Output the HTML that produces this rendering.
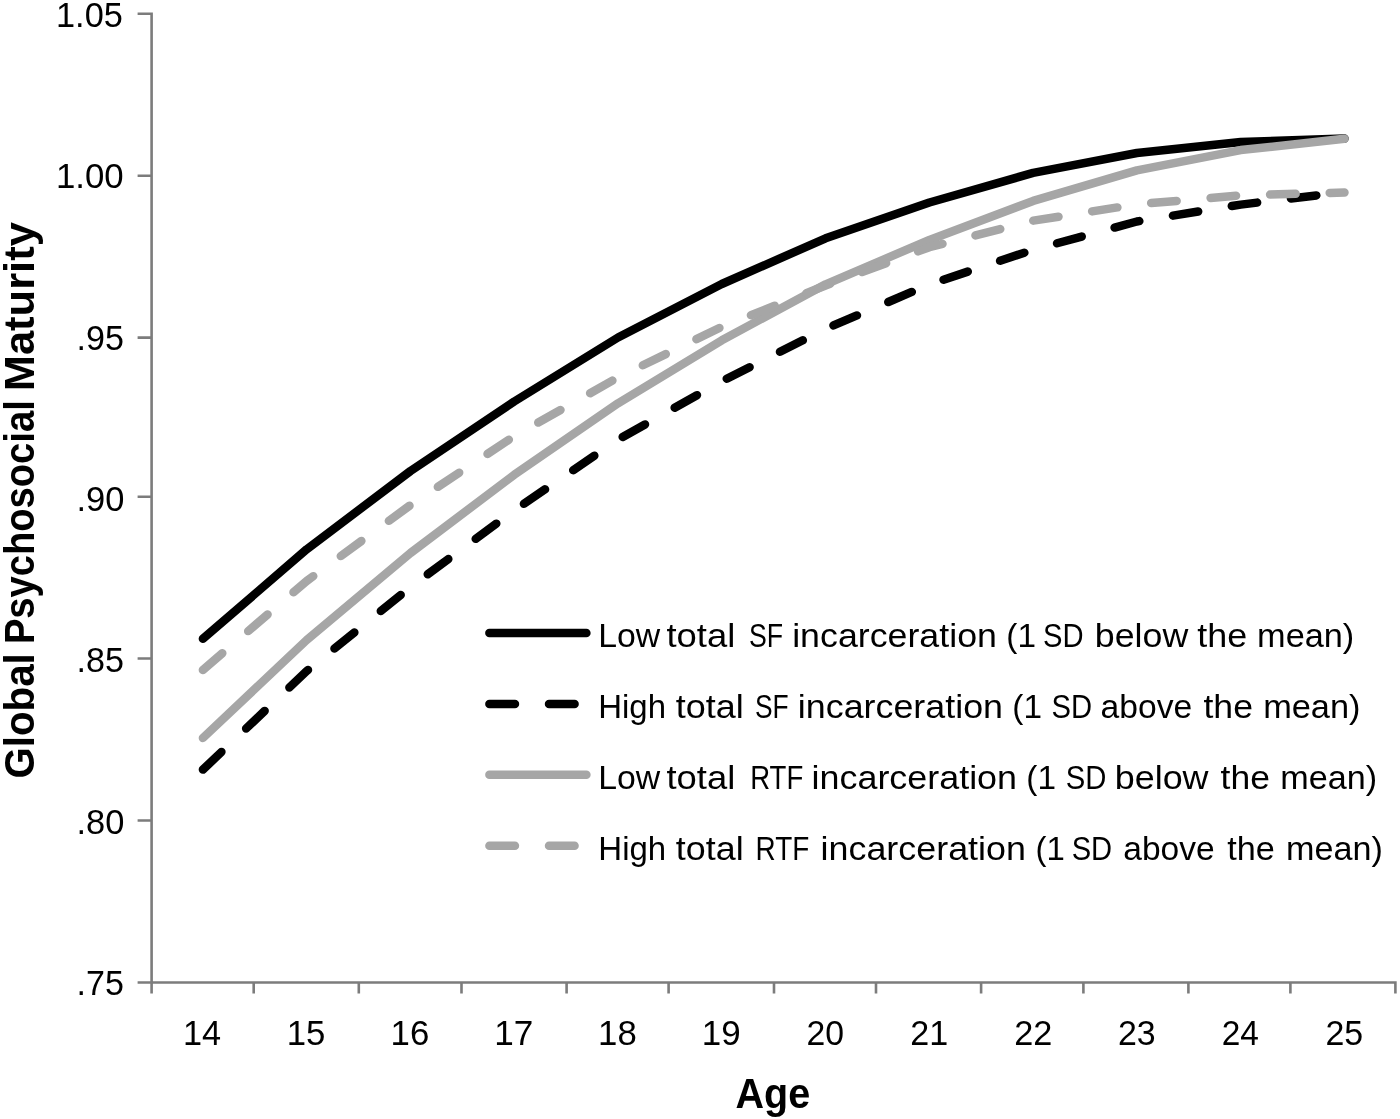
<!DOCTYPE html><html><head><meta charset="utf-8"><title>Global Psychosocial Maturity by Age</title><style>html,body{margin:0;padding:0;background:#fff}svg{display:block}text{font-family:"Liberation Sans",Arial,sans-serif;fill:#000}</style></head><body>
<svg width="1400" height="1119" viewBox="0 0 1400 1119">
<rect width="1400" height="1119" fill="#fff"/>
<path d="M151.6 13.7V993.5M137.6 13.7H152.90M137.6 175.7H152.90M137.6 337.6H152.90M137.6 496.7H152.90M137.6 658.5H152.90M137.6 820.5H152.90M137.6 982.5H152.90M150.30 982.5H1396.70M253.7 982.5V993.5M358.8 982.5V993.5M461.5 982.5V993.5M566.6 982.5V993.5M668.6 982.5V993.5M774.0 982.5V993.5M876.0 982.5V993.5M981.1 982.5V993.5M1083.4 982.5V993.5M1188.4 982.5V993.5M1290.4 982.5V993.5M1395.4 982.5V993.5" stroke="#7c7c7c" stroke-width="2.6" fill="none"/>
<path d="M202.9 638.8 L306.7 549.3 L410.5 471.0 L514.2 401.5 L618.0 337.5 L721.8 284.0 L825.6 238.3 L929.4 202.5 L1033.1 172.9 L1136.9 153.0 L1240.7 141.9 L1344.5 138.6" fill="none" stroke="#000" stroke-width="8.5" stroke-linecap="round" stroke-linejoin="round"/>
<path d="M202.9 769.6 L306.7 671.0 L410.5 587.0 L514.2 510.4 L618.0 439.6 L721.8 381.2 L825.6 328.8 L929.4 284.4 L1033.1 249.8 L1136.9 221.5 L1240.7 204.6 L1344.5 192.0" fill="none" stroke="#000" stroke-width="8.5" stroke-linecap="round" stroke-linejoin="round" stroke-dasharray="25.55 34.08"/>
<path d="M202.9 738.0 L306.7 640.0 L410.5 553.0 L514.2 474.8 L618.0 403.3 L721.8 340.3 L825.6 284.3 L929.4 240.0 L1033.1 200.9 L1136.9 170.3 L1240.7 150.1 L1344.5 138.8" fill="none" stroke="#a6a6a6" stroke-width="8.5" stroke-linecap="round" stroke-linejoin="round"/>
<path d="M202.9 669.9 L306.7 581.0 L410.5 505.0 L514.2 436.2 L618.0 377.4 L721.8 326.8 L825.6 285.5 L929.4 247.2 L1033.1 220.7 L1136.9 204.3 L1240.7 195.4 L1344.5 192.5" fill="none" stroke="#a6a6a6" stroke-width="8.5" stroke-linecap="round" stroke-linejoin="round" stroke-dasharray="25.55 34.08"/>
<path d="M489.4 633.0H586.4" fill="none" stroke="#000" stroke-width="8.5" stroke-linecap="round"/>
<path d="M489.4 703.9H586.4" fill="none" stroke="#000" stroke-width="8.5" stroke-linecap="round" stroke-dasharray="25.55 34.08"/>
<path d="M489.4 774.8H586.4" fill="none" stroke="#a6a6a6" stroke-width="8.5" stroke-linecap="round"/>
<path d="M489.4 845.7H586.4" fill="none" stroke="#a6a6a6" stroke-width="8.5" stroke-linecap="round" stroke-dasharray="25.55 34.08"/>
<text x="56.03" y="26.60" font-size="34.2" textLength="66.79" lengthAdjust="spacingAndGlyphs">1.05</text>
<text x="55.99" y="188.07" font-size="34.2" textLength="67.75" lengthAdjust="spacingAndGlyphs">1.00</text>
<text x="76.54" y="349.54" font-size="34.2" textLength="47.33" lengthAdjust="spacingAndGlyphs">.95</text>
<text x="76.50" y="511.01" font-size="34.2" textLength="47.88" lengthAdjust="spacingAndGlyphs">.90</text>
<text x="76.53" y="672.48" font-size="34.2" textLength="47.44" lengthAdjust="spacingAndGlyphs">.85</text>
<text x="76.50" y="833.95" font-size="34.2" textLength="47.88" lengthAdjust="spacingAndGlyphs">.80</text>
<text x="76.54" y="995.42" font-size="34.2" textLength="47.33" lengthAdjust="spacingAndGlyphs">.75</text>
<text x="183.03" y="1044.80" font-size="34.2" textLength="38.11" lengthAdjust="spacingAndGlyphs">14</text>
<text x="286.77" y="1044.80" font-size="34.2" textLength="38.68" lengthAdjust="spacingAndGlyphs">15</text>
<text x="390.55" y="1044.80" font-size="34.2" textLength="38.68" lengthAdjust="spacingAndGlyphs">16</text>
<text x="494.31" y="1044.80" font-size="34.2" textLength="39.07" lengthAdjust="spacingAndGlyphs">17</text>
<text x="598.11" y="1044.80" font-size="34.2" textLength="38.68" lengthAdjust="spacingAndGlyphs">18</text>
<text x="701.88" y="1044.80" font-size="34.2" textLength="38.88" lengthAdjust="spacingAndGlyphs">19</text>
<text x="806.59" y="1044.80" font-size="34.2" textLength="37.55" lengthAdjust="spacingAndGlyphs">20</text>
<text x="910.36" y="1044.80" font-size="34.2" textLength="37.92" lengthAdjust="spacingAndGlyphs">21</text>
<text x="1014.13" y="1044.80" font-size="34.2" textLength="38.11" lengthAdjust="spacingAndGlyphs">22</text>
<text x="1117.92" y="1044.80" font-size="34.2" textLength="37.73" lengthAdjust="spacingAndGlyphs">23</text>
<text x="1221.73" y="1044.80" font-size="34.2" textLength="37.19" lengthAdjust="spacingAndGlyphs">24</text>
<text x="1325.48" y="1044.80" font-size="34.2" textLength="37.73" lengthAdjust="spacingAndGlyphs">25</text>
<text x="598.20" y="647.00" font-size="33.5" textLength="61.99" lengthAdjust="spacingAndGlyphs">Low</text>
<text x="666.45" y="647.00" font-size="33.5" textLength="68.82" lengthAdjust="spacingAndGlyphs">total</text>
<text x="749.00" y="647.00" font-size="33.5" textLength="34.11" lengthAdjust="spacingAndGlyphs">SF</text>
<text x="792.18" y="647.00" font-size="33.5" textLength="204.75" lengthAdjust="spacingAndGlyphs">incarceration</text>
<text x="1006.30" y="647.00" font-size="33.5" textLength="29.64" lengthAdjust="spacingAndGlyphs">(1</text>
<text x="1042.99" y="647.00" font-size="33.5" textLength="40.55" lengthAdjust="spacingAndGlyphs">SD</text>
<text x="1094.78" y="647.00" font-size="33.5" textLength="93.45" lengthAdjust="spacingAndGlyphs">below</text>
<text x="1197.36" y="647.00" font-size="33.5" textLength="49.96" lengthAdjust="spacingAndGlyphs">the</text>
<text x="1257.07" y="647.00" font-size="33.5" textLength="97.24" lengthAdjust="spacingAndGlyphs">mean)</text>
<text x="598.27" y="717.90" font-size="33.5" textLength="67.73" lengthAdjust="spacingAndGlyphs">High</text>
<text x="675.76" y="717.90" font-size="33.5" textLength="67.98" lengthAdjust="spacingAndGlyphs">total</text>
<text x="754.91" y="717.90" font-size="33.5" textLength="33.68" lengthAdjust="spacingAndGlyphs">SF</text>
<text x="797.87" y="717.90" font-size="33.5" textLength="205.16" lengthAdjust="spacingAndGlyphs">incarceration</text>
<text x="1012.30" y="717.90" font-size="33.5" textLength="29.64" lengthAdjust="spacingAndGlyphs">(1</text>
<text x="1051.59" y="717.90" font-size="33.5" textLength="40.55" lengthAdjust="spacingAndGlyphs">SD</text>
<text x="1100.59" y="717.90" font-size="33.5" textLength="91.61" lengthAdjust="spacingAndGlyphs">above</text>
<text x="1203.47" y="717.90" font-size="33.5" textLength="49.54" lengthAdjust="spacingAndGlyphs">the</text>
<text x="1263.17" y="717.90" font-size="33.5" textLength="97.35" lengthAdjust="spacingAndGlyphs">mean)</text>
<text x="598.20" y="788.80" font-size="33.5" textLength="61.99" lengthAdjust="spacingAndGlyphs">Low</text>
<text x="666.45" y="788.80" font-size="33.5" textLength="68.82" lengthAdjust="spacingAndGlyphs">total</text>
<text x="750.20" y="788.80" font-size="33.5" textLength="53.03" lengthAdjust="spacingAndGlyphs">RTF</text>
<text x="811.57" y="788.80" font-size="33.5" textLength="205.47" lengthAdjust="spacingAndGlyphs">incarceration</text>
<text x="1026.30" y="788.80" font-size="33.5" textLength="29.64" lengthAdjust="spacingAndGlyphs">(1</text>
<text x="1065.78" y="788.80" font-size="33.5" textLength="40.66" lengthAdjust="spacingAndGlyphs">SD</text>
<text x="1114.77" y="788.80" font-size="33.5" textLength="93.75" lengthAdjust="spacingAndGlyphs">below</text>
<text x="1220.57" y="788.80" font-size="33.5" textLength="49.33" lengthAdjust="spacingAndGlyphs">the</text>
<text x="1280.38" y="788.80" font-size="33.5" textLength="96.82" lengthAdjust="spacingAndGlyphs">mean)</text>
<text x="598.36" y="859.70" font-size="33.5" textLength="67.84" lengthAdjust="spacingAndGlyphs">High</text>
<text x="675.86" y="859.70" font-size="33.5" textLength="67.77" lengthAdjust="spacingAndGlyphs">total</text>
<text x="755.57" y="859.70" font-size="33.5" textLength="53.77" lengthAdjust="spacingAndGlyphs">RTF</text>
<text x="820.57" y="859.70" font-size="33.5" textLength="205.37" lengthAdjust="spacingAndGlyphs">incarceration</text>
<text x="1035.62" y="859.70" font-size="33.5" textLength="29.30" lengthAdjust="spacingAndGlyphs">(1</text>
<text x="1071.69" y="859.70" font-size="33.5" textLength="40.44" lengthAdjust="spacingAndGlyphs">SD</text>
<text x="1123.29" y="859.70" font-size="33.5" textLength="91.41" lengthAdjust="spacingAndGlyphs">above</text>
<text x="1227.29" y="859.70" font-size="33.5" textLength="47.56" lengthAdjust="spacingAndGlyphs">the</text>
<text x="1285.98" y="859.70" font-size="33.5" textLength="96.82" lengthAdjust="spacingAndGlyphs">mean)</text>
<text x="735.51" y="1108.10" font-size="42.5" font-weight="bold" textLength="74.64" lengthAdjust="spacingAndGlyphs">Age</text>
<g transform="translate(34.2 776.9) rotate(-90)">
<text x="-1.61" y="0" font-size="42.5" font-weight="bold" textLength="125.28" lengthAdjust="spacingAndGlyphs">Global</text>
<text x="132.82" y="0" font-size="42.5" font-weight="bold" textLength="243.83" lengthAdjust="spacingAndGlyphs">Psychosocial</text>
<text x="385.57" y="0" font-size="42.5" font-weight="bold" textLength="169.23" lengthAdjust="spacingAndGlyphs">Maturity</text>
</g>
</svg></body></html>
